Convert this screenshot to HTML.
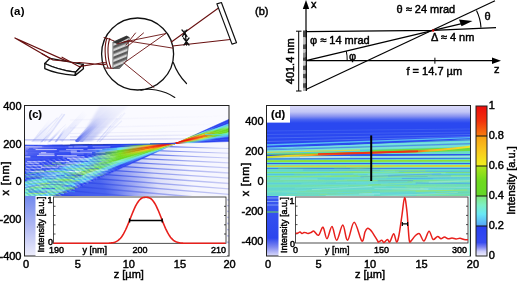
<!DOCTYPE html>
<html><head><meta charset="utf-8"><style>html,body{margin:0;padding:0;background:#fff;overflow:hidden}svg{display:block}</style></head><body>
<svg width="517" height="281" viewBox="0 0 517 281" font-family="'Liberation Sans', Arial, sans-serif">
<style>text{stroke:#000;stroke-width:0.45px}</style>
<rect width="517" height="281" fill="#fff"/>
<g fill="none" stroke-linecap="round" stroke-linejoin="round">
<path d="M15,38 L53,60 M15,38 L79,66.6" stroke="#681010" stroke-width="1.25"/>
<path d="M44.8,63.5 L50,58.3 L83.2,64.3 L75.6,72.2 C66,71 54,68 44.8,63.5 Z" fill="#fff" stroke="#111" stroke-width="1.35"/>
<path d="M44.8,63.5 C54,68 66,71 75.6,72.2 L75.2,75.4 C65,74.5 53,72.5 44.8,68.6 Z" fill="#fff" stroke="#111" stroke-width="1.35"/>
<path d="M75.6,72.2 L83.2,64.3 L83.4,68.8 L75.2,75.4 Z" fill="#fff" stroke="#111" stroke-width="1.35"/>
<path d="M42,53.7 L53,60 L103,64.8 M62,57.2 L79,66.6 L103,62.8" stroke="#681010" stroke-width="1.1"/>
<circle cx="137.6" cy="54" r="36" fill="#fff" stroke="#111" stroke-width="1.3"/>
<path d="M141,90.3 C148,88 163,89.5 174.8,97.4" stroke="#111" stroke-width="1.2"/>
<path d="M173.3,62.5 C176,70 180,77 186.5,83.5" stroke="#111" stroke-width="1.2"/>
<path d="M102,64.6 L106,64.3 M102,62.6 L106,62.8" stroke="#681010" stroke-width="1"/>
<path d="M107,38.3 C104.5,44 104.2,59 108,67.6 M109.8,38.5 C107.2,45 107.2,59 111,68" stroke="#681010" stroke-width="1.1"/>
<path d="M104,37.6 L107,38.3 L114.2,41 M105,68 L113.5,68.3" stroke="#681010" stroke-width="1"/>
<defs><pattern id="blk" patternUnits="userSpaceOnUse" width="5" height="5" patternTransform="rotate(-22)"><rect width="5" height="5" fill="#d4d4d4"/><rect width="5" height="2.6" fill="#5a5a5a"/></pattern></defs>
<path d="M113.3,41.9 L126.6,36 L129.3,37.4 L126.6,60.5 L119.5,68.5 L113.3,68.5 Z" fill="url(#blk)" stroke="#444" stroke-width="0.7"/>
<path d="M113.3,41.9 L126.6,36 L129.3,37.4 L117,44 Z" fill="#333" stroke="none"/>
<path d="M124,42 L165.7,33.6 M124.9,62.3 L165.7,33.6 M126,45 L135.5,33 M128,46 L143.5,33 M128,41 L172.8,48.1 M124,63 L154,87.5 M117,44 L128,41" stroke="#681010" stroke-width="0.9"/>
<path d="M171.4,42 L218.5,8 M172.5,46 L230.3,39.5" stroke="#681010" stroke-width="1.1"/>
<path d="M216.9,3.9 L221.4,2.5 L236.5,42.7 L232,44.1 Z" fill="#fff" stroke="#111" stroke-width="1.2"/>
<path d="M182,30 C184,32 185.5,34 187,36.5 M187,30 C185,32 183.5,34 182.5,36.5 M183.5,38 C185.5,40.5 187,42.5 189,45 M189,38 C187,40.5 185.5,42.5 184,45 M185,31 L186.5,45" stroke="#111" stroke-width="1.3"/>
</g>
<text x="10" y="15.3" font-size="11.5" font-weight="bold" style="stroke-width:0" textLength="14.5" lengthAdjust="spacing">(a)</text>
<g fill="none" stroke="#000">
<path d="M306,91 L306,6" stroke-width="1.2"/>
<path d="M306,0 L302.8,9 L309.2,9 Z" fill="#000" stroke="none"/>
<rect x="303" y="30.5" width="3.5" height="6.9" fill="#4a4a4a" stroke="none"/>
<rect x="303" y="37.4" width="3.5" height="7.0" fill="#c4c4c4" stroke="none"/>
<rect x="303" y="44.4" width="3.5" height="4.7" fill="#505050" stroke="none"/>
<rect x="303" y="49.1" width="3.5" height="3.5" fill="#c8c8c8" stroke="none"/>
<rect x="303" y="52.6" width="3.5" height="4.7" fill="#8a8a8a" stroke="none"/>
<rect x="303" y="57.3" width="3.5" height="3.6" fill="#444" stroke="none"/>
<rect x="303" y="60.9" width="3.5" height="4.7" fill="#d0d0d0" stroke="none"/>
<rect x="303" y="65.6" width="3.5" height="4.7" fill="#505050" stroke="none"/>
<rect x="303" y="70.3" width="3.5" height="3.5" fill="#c8c8c8" stroke="none"/>
<rect x="303" y="73.8" width="3.5" height="4.7" fill="#555" stroke="none"/>
<rect x="303" y="78.5" width="3.5" height="4.7" fill="#c4c4c4" stroke="none"/>
<rect x="303" y="83.2" width="3.5" height="4.7" fill="#505050" stroke="none"/>
<rect x="303" y="87.9" width="3.5" height="3.1" fill="#b0b0b0" stroke="none"/>
<path d="M306.3,30 L306.3,91" stroke-width="1.1"/>
<path d="M298.7,31.2 L298.7,91 M296,31.2 L301.5,31.2 M296,91 L301.5,91" stroke-width="1"/>
<path d="M306,31.6 L433.2,30.4 L496,27.6" stroke-width="1.2"/>
<path d="M306,60.6 L466,22.6" stroke-width="1.2"/>
<path d="M472.5,20.9 L459,19.6 L461.5,26.2 Z" fill="#000" stroke="none"/>
<path d="M306,89.5 L495,0.8" stroke-width="1.2"/>
<path d="M306,60.7 L494,60.7" stroke-width="1.2"/>
<path d="M501,60.7 L492,57.5 L492,63.9 Z" fill="#000" stroke="none"/>
<path d="M434.9,57.7 L434.9,63.7" stroke-width="1"/>
<path d="M346.3,51.2 A40,40 0 0 1 347.2,60.7" stroke-width="1"/>
<path d="M476.5,10.4 A45,45 0 0 1 481,27.6" stroke-width="1.1"/>
</g>
<circle cx="433.2" cy="30.5" r="1.2" fill="#c00"/>
<text x="255" y="15" font-size="11" text-anchor="start" font-weight="normal" fill="#000" >(b)</text>
<text x="311" y="8" font-size="11" text-anchor="start" font-weight="normal" fill="#000" >x</text>
<text x="310" y="43.5" font-size="11" text-anchor="start" font-weight="normal" fill="#000" >φ ≈ 14 mrad</text>
<text x="349" y="59.5" font-size="11" text-anchor="start" font-weight="normal" fill="#000" >φ</text>
<text x="396.5" y="12.8" font-size="11" text-anchor="start" font-weight="normal" fill="#000" >θ ≈ 24 mrad</text>
<text x="484.5" y="20.2" font-size="11" text-anchor="start" font-weight="normal" fill="#000" >θ</text>
<text x="431" y="41.3" font-size="11" text-anchor="start" font-weight="normal" fill="#000" >Δ ≈ 4 nm</text>
<text x="406.5" y="74.5" font-size="11" text-anchor="start" font-weight="normal" fill="#000" >f = 14.7 µm</text>
<text x="494" y="72.8" font-size="11" text-anchor="start" font-weight="normal" fill="#000" >z</text>
<text x="0" y="0" font-size="11" text-anchor="middle" transform="translate(294.3,61.3) rotate(-90)">401.4 nm</text>
<defs>
<clipPath id="clipc"><rect x="25" y="106" width="204" height="150"/></clipPath>
<clipPath id="clipd"><rect x="267" y="106" width="203.5" height="150"/></clipPath>
<filter id="b1" x="-10%" y="-10%" width="120%" height="120%"><feGaussianBlur stdDeviation="0.7"/></filter>
<filter id="b2" x="-10%" y="-10%" width="120%" height="120%"><feGaussianBlur stdDeviation="1.3"/></filter>
<linearGradient id="cbar" x1="0" y1="0" x2="0" y2="1"><stop offset="0.0000" stop-color="#ec0c0c"/><stop offset="0.1000" stop-color="#f2320c"/><stop offset="0.2000" stop-color="#f87d0f"/><stop offset="0.2001" stop-color="#f8a014"/><stop offset="0.3000" stop-color="#f8c81e"/><stop offset="0.4000" stop-color="#f0f01e"/><stop offset="0.4001" stop-color="#afe419"/><stop offset="0.5000" stop-color="#6eda1e"/><stop offset="0.6000" stop-color="#64d728"/><stop offset="0.6001" stop-color="#82e87d"/><stop offset="0.6600" stop-color="#7df0c3"/><stop offset="0.7200" stop-color="#69e8f5"/><stop offset="0.7999" stop-color="#55a5f8"/><stop offset="0.8000" stop-color="#2840f0"/><stop offset="0.9100" stop-color="#374bf0"/><stop offset="0.9400" stop-color="#7d82f2"/><stop offset="0.9700" stop-color="#cdcdfa"/><stop offset="1.0000" stop-color="#f2f2ff"/></linearGradient>
<linearGradient id="dtop" x1="0" y1="0" x2="0" y2="1"><stop offset="0" stop-color="#dadafa"/><stop offset="0.35" stop-color="#c2c6f6"/><stop offset="0.6" stop-color="#8a94f0"/><stop offset="0.8" stop-color="#4a64f0"/><stop offset="1" stop-color="#2a48f0"/></linearGradient>
</defs>
<g clip-path="url(#clipc)">
<rect x="25" y="106" width="204" height="150" fill="#fafaff"/>
<defs><linearGradient id="lavf" gradientUnits="userSpaceOnUse" x1="70" y1="0" x2="229" y2="0"><stop offset="0" stop-color="#b4b6ec" stop-opacity="1"/><stop offset="0.6" stop-color="#b4b6ec" stop-opacity="0.8"/><stop offset="1" stop-color="#b4b6ec" stop-opacity="0.1"/></linearGradient></defs>
<path d="M70,139.6 L229,138.5" stroke="url(#lavf)" stroke-width="1.4" opacity="0.6"/>
<path d="M70,136.8 L229,134.5" stroke="url(#lavf)" stroke-width="1.3" opacity="0.35"/>
<path d="M70,133.5 L229,130.5" stroke="url(#lavf)" stroke-width="1.2" opacity="0.2"/>
<path d="M70,128 L229,124" stroke="url(#lavf)" stroke-width="1.5" opacity="0.1"/>
<path d="M70,120 L229,116" stroke="url(#lavf)" stroke-width="1.5" opacity="0.08"/>
<path d="M25,139.8 L80,139.8" stroke="#8890ea" stroke-width="1.2" opacity="0.6"/>
<defs><linearGradient id="ds0" gradientUnits="userSpaceOnUse" x1="39.5" y1="144" x2="53" y2="130"><stop offset="0" stop-color="#3a52ee" stop-opacity="0.35"/><stop offset="0.5" stop-color="#5a6eee" stop-opacity="0.24"/><stop offset="1" stop-color="#8a96ee" stop-opacity="0"/></linearGradient></defs>
<path d="M39.5,144 L53,130" stroke="url(#ds0)" stroke-width="1.6"/>
<defs><linearGradient id="ds1" gradientUnits="userSpaceOnUse" x1="47" y1="144" x2="62" y2="129"><stop offset="0" stop-color="#3a52ee" stop-opacity="0.4"/><stop offset="0.5" stop-color="#5a6eee" stop-opacity="0.28"/><stop offset="1" stop-color="#8a96ee" stop-opacity="0"/></linearGradient></defs>
<path d="M47,144 L62,129" stroke="url(#ds1)" stroke-width="1.6"/>
<defs><linearGradient id="ds2" gradientUnits="userSpaceOnUse" x1="55" y1="143" x2="67" y2="126"><stop offset="0" stop-color="#3a52ee" stop-opacity="0.4"/><stop offset="0.5" stop-color="#5a6eee" stop-opacity="0.28"/><stop offset="1" stop-color="#8a96ee" stop-opacity="0"/></linearGradient></defs>
<path d="M55,143 L67,126" stroke="url(#ds2)" stroke-width="1.8"/>
<defs><linearGradient id="ds3" gradientUnits="userSpaceOnUse" x1="76" y1="142" x2="97" y2="123.5"><stop offset="0" stop-color="#3a52ee" stop-opacity="0.85"/><stop offset="0.5" stop-color="#5a6eee" stop-opacity="0.59"/><stop offset="1" stop-color="#8a96ee" stop-opacity="0"/></linearGradient></defs>
<path d="M76,142 L97,123.5" stroke="url(#ds3)" stroke-width="3.2"/>
<defs><linearGradient id="ds4" gradientUnits="userSpaceOnUse" x1="79" y1="141" x2="100" y2="118"><stop offset="0" stop-color="#3a52ee" stop-opacity="0.4"/><stop offset="0.5" stop-color="#5a6eee" stop-opacity="0.28"/><stop offset="1" stop-color="#8a96ee" stop-opacity="0"/></linearGradient></defs>
<path d="M79,141 L100,118" stroke="url(#ds4)" stroke-width="6.5"/>
<defs><linearGradient id="ds5" gradientUnits="userSpaceOnUse" x1="80" y1="140" x2="112" y2="110"><stop offset="0" stop-color="#3a52ee" stop-opacity="0.16"/><stop offset="0.5" stop-color="#5a6eee" stop-opacity="0.11"/><stop offset="1" stop-color="#8a96ee" stop-opacity="0"/></linearGradient></defs>
<path d="M80,140 L112,110" stroke="url(#ds5)" stroke-width="7"/>
<defs><linearGradient id="ds6" gradientUnits="userSpaceOnUse" x1="60" y1="140" x2="86" y2="112"><stop offset="0" stop-color="#3a52ee" stop-opacity="0.14"/><stop offset="0.5" stop-color="#5a6eee" stop-opacity="0.10"/><stop offset="1" stop-color="#8a96ee" stop-opacity="0"/></linearGradient></defs>
<path d="M60,140 L86,112" stroke="url(#ds6)" stroke-width="6"/>
<defs><linearGradient id="ds7" gradientUnits="userSpaceOnUse" x1="35" y1="143" x2="52" y2="120"><stop offset="0" stop-color="#3a52ee" stop-opacity="0.12"/><stop offset="0.5" stop-color="#5a6eee" stop-opacity="0.08"/><stop offset="1" stop-color="#8a96ee" stop-opacity="0"/></linearGradient></defs>
<path d="M35,143 L52,120" stroke="url(#ds7)" stroke-width="6"/>
<path d="M41.5,142 L59.8,119.3" stroke="#6878ea" stroke-width="0.8" opacity="0.10"/>
<path d="M99.3,142 L125.0,112.7" stroke="#6878ea" stroke-width="1.6" opacity="0.07"/>
<path d="M46.5,142 L65.8,124.6" stroke="#6878ea" stroke-width="0.8" opacity="0.11"/>
<path d="M40.1,142 L62.4,113.6" stroke="#6878ea" stroke-width="1.2" opacity="0.12"/>
<path d="M99.8,142 L121.5,114.5" stroke="#6878ea" stroke-width="0.8" opacity="0.11"/>
<path d="M97.0,142 L117.4,118.1" stroke="#6878ea" stroke-width="1.2" opacity="0.11"/>
<path d="M31.6,142 L40.9,130.2" stroke="#6878ea" stroke-width="0.8" opacity="0.12"/>
<path d="M61.7,142 L76.1,125.1" stroke="#6878ea" stroke-width="0.8" opacity="0.10"/>
<path d="M76.6,142 L99.8,115.6" stroke="#6878ea" stroke-width="0.8" opacity="0.07"/>
<path d="M44.6,142 L64.7,114.1" stroke="#6878ea" stroke-width="1.6" opacity="0.12"/>
<path d="M99.2,142 L121.9,120.8" stroke="#6878ea" stroke-width="1.2" opacity="0.10"/>
<path d="M44.1,142 L64.5,114.2" stroke="#6878ea" stroke-width="1.2" opacity="0.09"/>
<path d="M96.8,142 L111.0,125.6" stroke="#6878ea" stroke-width="1.2" opacity="0.10"/>
<path d="M31.9,142 L57.6,117.6" stroke="#6878ea" stroke-width="1.2" opacity="0.14"/>
<defs><linearGradient id="fanf" gradientUnits="userSpaceOnUse" x1="85" y1="142" x2="112" y2="106"><stop offset="0" stop-color="#9ca6f0" stop-opacity="0.7"/><stop offset="1" stop-color="#dcdff8" stop-opacity="0.35"/></linearGradient></defs>
<path d="M78,142 L92,141 L128,106 L100,106 Z" fill="url(#fanf)" filter="url(#b2)"/>
<defs><radialGradient id="frb" gradientUnits="userSpaceOnUse" cx="70" cy="205" r="125"><stop offset="0" stop-color="#3a56ee"/><stop offset="0.3" stop-color="#4a64ee"/><stop offset="0.5" stop-color="#94a0f2"/><stop offset="0.72" stop-color="#dcdef8"/><stop offset="1" stop-color="#f6f6fe"/></radialGradient></defs>
<path d="M176.0,143.3 L229,141 L229,200 L25,200 L25,212.0 Z" fill="url(#frb)"/>
<defs><linearGradient id="fg0" gradientUnits="userSpaceOnUse" x1="168.0" y1="0" x2="229" y2="0"><stop offset="0" stop-color="#2a44e8" stop-opacity="0.80"/><stop offset="0.35" stop-color="#4a5ee6" stop-opacity="0.60"/><stop offset="1" stop-color="#6a74e2" stop-opacity="0.24"/></linearGradient></defs>
<path d="M168.0,146.6 L229,148.5" stroke="url(#fg0)" stroke-width="1.10"/>
<defs><linearGradient id="fg1" gradientUnits="userSpaceOnUse" x1="159.2" y1="0" x2="229" y2="0"><stop offset="0" stop-color="#2a44e8" stop-opacity="0.79"/><stop offset="0.35" stop-color="#4a5ee6" stop-opacity="0.60"/><stop offset="1" stop-color="#6a74e2" stop-opacity="0.25"/></linearGradient></defs>
<path d="M159.2,150.7 L229,153.2" stroke="url(#fg1)" stroke-width="1.14"/>
<defs><linearGradient id="fg2" gradientUnits="userSpaceOnUse" x1="150.4" y1="0" x2="229" y2="0"><stop offset="0" stop-color="#2a44e8" stop-opacity="0.79"/><stop offset="0.35" stop-color="#4a5ee6" stop-opacity="0.59"/><stop offset="1" stop-color="#6a74e2" stop-opacity="0.26"/></linearGradient></defs>
<path d="M150.4,154.7 L229,158.0" stroke="url(#fg2)" stroke-width="1.17"/>
<defs><linearGradient id="fg3" gradientUnits="userSpaceOnUse" x1="141.5" y1="0" x2="229" y2="0"><stop offset="0" stop-color="#2a44e8" stop-opacity="0.78"/><stop offset="0.35" stop-color="#4a5ee6" stop-opacity="0.59"/><stop offset="1" stop-color="#6a74e2" stop-opacity="0.28"/></linearGradient></defs>
<path d="M141.5,158.7 L229,162.9" stroke="url(#fg3)" stroke-width="1.21"/>
<defs><linearGradient id="fg4" gradientUnits="userSpaceOnUse" x1="132.7" y1="0" x2="229" y2="0"><stop offset="0" stop-color="#2a44e8" stop-opacity="0.78"/><stop offset="0.35" stop-color="#4a5ee6" stop-opacity="0.58"/><stop offset="1" stop-color="#6a74e2" stop-opacity="0.29"/></linearGradient></defs>
<path d="M132.7,162.7 L229,167.9" stroke="url(#fg4)" stroke-width="1.24"/>
<defs><linearGradient id="fg5" gradientUnits="userSpaceOnUse" x1="123.9" y1="0" x2="229" y2="0"><stop offset="0" stop-color="#2a44e8" stop-opacity="0.77"/><stop offset="0.35" stop-color="#4a5ee6" stop-opacity="0.58"/><stop offset="1" stop-color="#6a74e2" stop-opacity="0.30"/></linearGradient></defs>
<path d="M123.9,166.7 L229,173.0" stroke="url(#fg5)" stroke-width="1.28"/>
<defs><linearGradient id="fg6" gradientUnits="userSpaceOnUse" x1="115.1" y1="0" x2="229" y2="0"><stop offset="0" stop-color="#2a44e8" stop-opacity="0.76"/><stop offset="0.35" stop-color="#4a5ee6" stop-opacity="0.57"/><stop offset="1" stop-color="#6a74e2" stop-opacity="0.31"/></linearGradient></defs>
<path d="M115.1,170.7 L229,178.2" stroke="url(#fg6)" stroke-width="1.31"/>
<defs><linearGradient id="fg7" gradientUnits="userSpaceOnUse" x1="106.2" y1="0" x2="229" y2="0"><stop offset="0" stop-color="#2a44e8" stop-opacity="0.76"/><stop offset="0.35" stop-color="#4a5ee6" stop-opacity="0.57"/><stop offset="1" stop-color="#6a74e2" stop-opacity="0.32"/></linearGradient></defs>
<path d="M106.2,174.7 L229,183.5" stroke="url(#fg7)" stroke-width="1.35"/>
<defs><linearGradient id="fg8" gradientUnits="userSpaceOnUse" x1="97.4" y1="0" x2="229" y2="0"><stop offset="0" stop-color="#2a44e8" stop-opacity="0.75"/><stop offset="0.35" stop-color="#4a5ee6" stop-opacity="0.56"/><stop offset="1" stop-color="#6a74e2" stop-opacity="0.33"/></linearGradient></defs>
<path d="M97.4,178.8 L229,188.9" stroke="url(#fg8)" stroke-width="1.38"/>
<defs><linearGradient id="fg9" gradientUnits="userSpaceOnUse" x1="88.6" y1="0" x2="229" y2="0"><stop offset="0" stop-color="#2a44e8" stop-opacity="0.75"/><stop offset="0.35" stop-color="#4a5ee6" stop-opacity="0.56"/><stop offset="1" stop-color="#6a74e2" stop-opacity="0.34"/></linearGradient></defs>
<path d="M88.6,182.8 L229,194.4" stroke="url(#fg9)" stroke-width="1.42"/>
<defs><linearGradient id="fg10" gradientUnits="userSpaceOnUse" x1="79.8" y1="0" x2="229" y2="0"><stop offset="0" stop-color="#2a44e8" stop-opacity="0.74"/><stop offset="0.35" stop-color="#4a5ee6" stop-opacity="0.56"/><stop offset="1" stop-color="#6a74e2" stop-opacity="0.35"/></linearGradient></defs>
<path d="M79.8,186.8 L229,200.0" stroke="url(#fg10)" stroke-width="1.45"/>
<defs><linearGradient id="fg11" gradientUnits="userSpaceOnUse" x1="70.9" y1="0" x2="229" y2="0"><stop offset="0" stop-color="#2a44e8" stop-opacity="0.74"/><stop offset="0.35" stop-color="#4a5ee6" stop-opacity="0.55"/><stop offset="1" stop-color="#6a74e2" stop-opacity="0.36"/></linearGradient></defs>
<path d="M70.9,190.8 L229,205.8" stroke="url(#fg11)" stroke-width="1.49"/>
<defs><linearGradient id="fg12" gradientUnits="userSpaceOnUse" x1="62.1" y1="0" x2="229" y2="0"><stop offset="0" stop-color="#2a44e8" stop-opacity="0.73"/><stop offset="0.35" stop-color="#4a5ee6" stop-opacity="0.55"/><stop offset="1" stop-color="#6a74e2" stop-opacity="0.37"/></linearGradient></defs>
<path d="M62.1,194.8 L229,211.6" stroke="url(#fg12)" stroke-width="1.52"/>
<defs><linearGradient id="fg13" gradientUnits="userSpaceOnUse" x1="53.3" y1="0" x2="229" y2="0"><stop offset="0" stop-color="#2a44e8" stop-opacity="0.72"/><stop offset="0.35" stop-color="#4a5ee6" stop-opacity="0.54"/><stop offset="1" stop-color="#6a74e2" stop-opacity="0.38"/></linearGradient></defs>
<path d="M53.3,198.8 L229,217.5" stroke="url(#fg13)" stroke-width="1.56"/>
<defs><linearGradient id="fg14" gradientUnits="userSpaceOnUse" x1="44.5" y1="0" x2="229" y2="0"><stop offset="0" stop-color="#2a44e8" stop-opacity="0.72"/><stop offset="0.35" stop-color="#4a5ee6" stop-opacity="0.54"/><stop offset="1" stop-color="#6a74e2" stop-opacity="0.39"/></linearGradient></defs>
<path d="M44.5,202.8 L229,223.6" stroke="url(#fg14)" stroke-width="1.59"/>
<defs><linearGradient id="fg15" gradientUnits="userSpaceOnUse" x1="35.6" y1="0" x2="229" y2="0"><stop offset="0" stop-color="#2a44e8" stop-opacity="0.71"/><stop offset="0.35" stop-color="#4a5ee6" stop-opacity="0.53"/><stop offset="1" stop-color="#6a74e2" stop-opacity="0.40"/></linearGradient></defs>
<path d="M35.6,206.9 L229,229.7" stroke="url(#fg15)" stroke-width="1.63"/>
<defs><linearGradient id="fg16" gradientUnits="userSpaceOnUse" x1="26.8" y1="0" x2="229" y2="0"><stop offset="0" stop-color="#2a44e8" stop-opacity="0.71"/><stop offset="0.35" stop-color="#4a5ee6" stop-opacity="0.53"/><stop offset="1" stop-color="#6a74e2" stop-opacity="0.41"/></linearGradient></defs>
<path d="M26.8,210.9 L229,236.0" stroke="url(#fg16)" stroke-width="1.66"/>
<defs><linearGradient id="fg17" gradientUnits="userSpaceOnUse" x1="18.0" y1="0" x2="229" y2="0"><stop offset="0" stop-color="#2a44e8" stop-opacity="0.70"/><stop offset="0.35" stop-color="#4a5ee6" stop-opacity="0.53"/><stop offset="1" stop-color="#6a74e2" stop-opacity="0.42"/></linearGradient></defs>
<path d="M18.0,214.9 L229,242.3" stroke="url(#fg17)" stroke-width="1.70"/>
</g>
<g clip-path="url(#clipc)">
<defs><linearGradient id="bw0" gradientUnits="userSpaceOnUse" x1="25" y1="0" x2="176.0" y2="0"><stop offset="0.000" stop-color="#8a8ef3"/><stop offset="0.232" stop-color="#5a66f1"/><stop offset="0.430" stop-color="#3248f0"/><stop offset="0.629" stop-color="#2d44f0"/><stop offset="0.815" stop-color="#65dbf6"/><stop offset="0.914" stop-color="#7edd1d"/><stop offset="1.000" stop-color="#f0280c"/></linearGradient></defs>
<path d="M25,145.26 L176.0,143.3 L25,149.27 Z" fill="url(#bw0)" stroke="url(#bw0)" stroke-width="0.6"/>
<defs><linearGradient id="bw1" gradientUnits="userSpaceOnUse" x1="25" y1="0" x2="176.0" y2="0"><stop offset="0.000" stop-color="#7179f2"/><stop offset="0.232" stop-color="#374bf0"/><stop offset="0.430" stop-color="#3046f0"/><stop offset="0.629" stop-color="#2940f0"/><stop offset="0.815" stop-color="#6cda20"/><stop offset="0.914" stop-color="#f7750f"/><stop offset="1.000" stop-color="#ee160c"/></linearGradient></defs>
<path d="M25,149.27 L176.0,143.3 L25,155.27 Z" fill="url(#bw1)" stroke="url(#bw1)" stroke-width="0.6"/>
<defs><linearGradient id="bw2" gradientUnits="userSpaceOnUse" x1="25" y1="0" x2="176.0" y2="0"><stop offset="0.000" stop-color="#4e5df1"/><stop offset="0.232" stop-color="#3448f0"/><stop offset="0.430" stop-color="#2d44f0"/><stop offset="0.629" stop-color="#6be9f1"/><stop offset="0.815" stop-color="#f8ba1a"/><stop offset="0.914" stop-color="#ee1b0c"/><stop offset="1.000" stop-color="#ec0c0c"/></linearGradient></defs>
<path d="M25,155.27 L176.0,143.3 L25,161.95 Z" fill="url(#bw2)" stroke="url(#bw2)" stroke-width="0.6"/>
<defs><linearGradient id="bw3" gradientUnits="userSpaceOnUse" x1="25" y1="0" x2="176.0" y2="0"><stop offset="0.000" stop-color="#354af0"/><stop offset="0.232" stop-color="#3046f0"/><stop offset="0.430" stop-color="#2a42f0"/><stop offset="0.629" stop-color="#66d826"/><stop offset="0.815" stop-color="#f4450d"/><stop offset="0.914" stop-color="#ec0c0c"/><stop offset="1.000" stop-color="#ec0c0c"/></linearGradient></defs>
<path d="M25,161.95 L176.0,143.3 L25,168.62 Z" fill="url(#bw3)" stroke="url(#bw3)" stroke-width="0.6"/>
<defs><linearGradient id="bw4" gradientUnits="userSpaceOnUse" x1="25" y1="0" x2="176.0" y2="0"><stop offset="0.000" stop-color="#3046f0"/><stop offset="0.232" stop-color="#2b42f0"/><stop offset="0.430" stop-color="#5cbef7"/><stop offset="0.629" stop-color="#7edd1d"/><stop offset="0.815" stop-color="#f5570d"/><stop offset="0.914" stop-color="#ee160c"/><stop offset="1.000" stop-color="#ec0c0c"/></linearGradient></defs>
<path d="M25,168.62 L176.0,143.3 L25,175.30 Z" fill="url(#bw4)" stroke="url(#bw4)" stroke-width="0.6"/>
<defs><linearGradient id="bw5" gradientUnits="userSpaceOnUse" x1="25" y1="0" x2="176.0" y2="0"><stop offset="0.000" stop-color="#2941f0"/><stop offset="0.232" stop-color="#5cbef7"/><stop offset="0.430" stop-color="#70ebe4"/><stop offset="0.629" stop-color="#78dc1d"/><stop offset="0.815" stop-color="#f8c41d"/><stop offset="0.914" stop-color="#f2320c"/><stop offset="1.000" stop-color="#ec0c0c"/></linearGradient></defs>
<path d="M25,175.30 L176.0,143.3 L25,181.97 Z" fill="url(#bw5)" stroke="url(#bw5)" stroke-width="0.6"/>
<defs><linearGradient id="bw6" gradientUnits="userSpaceOnUse" x1="25" y1="0" x2="176.0" y2="0"><stop offset="0.000" stop-color="#64d7f6"/><stop offset="0.232" stop-color="#73ecdc"/><stop offset="0.430" stop-color="#80eb94"/><stop offset="0.629" stop-color="#67d825"/><stop offset="0.815" stop-color="#8fdf1b"/><stop offset="0.914" stop-color="#f8aa16"/><stop offset="1.000" stop-color="#ee160c"/></linearGradient></defs>
<path d="M25,181.97 L176.0,143.3 L25,188.65 Z" fill="url(#bw6)" stroke="url(#bw6)" stroke-width="0.6"/>
<defs><linearGradient id="bw7" gradientUnits="userSpaceOnUse" x1="25" y1="0" x2="176.0" y2="0"><stop offset="0.000" stop-color="#7aefcb"/><stop offset="0.232" stop-color="#80eb94"/><stop offset="0.430" stop-color="#64d728"/><stop offset="0.629" stop-color="#7aefcb"/><stop offset="0.815" stop-color="#66d826"/><stop offset="0.914" stop-color="#f0f01e"/><stop offset="1.000" stop-color="#f0280c"/></linearGradient></defs>
<path d="M25,188.65 L176.0,143.3 L25,195.32 Z" fill="url(#bw7)" stroke="url(#bw7)" stroke-width="0.6"/>
<defs><linearGradient id="bw8" gradientUnits="userSpaceOnUse" x1="25" y1="0" x2="176.0" y2="0"><stop offset="0.000" stop-color="#7aefcb"/><stop offset="0.232" stop-color="#7fedac"/><stop offset="0.430" stop-color="#7aefcb"/><stop offset="0.629" stop-color="#5fc6f7"/><stop offset="0.815" stop-color="#73ecdc"/><stop offset="0.914" stop-color="#66d826"/><stop offset="1.000" stop-color="#f5570d"/></linearGradient></defs>
<path d="M25,195.32 L176.0,143.3 L25,201.99 Z" fill="url(#bw8)" stroke="url(#bw8)" stroke-width="0.6"/>
<defs><linearGradient id="bw9" gradientUnits="userSpaceOnUse" x1="25" y1="0" x2="176.0" y2="0"><stop offset="0.000" stop-color="#64d7f6"/><stop offset="0.232" stop-color="#66e0f5"/><stop offset="0.430" stop-color="#5fc6f7"/><stop offset="0.629" stop-color="#2b42f0"/><stop offset="0.815" stop-color="#5cbef7"/><stop offset="0.914" stop-color="#70ebe4"/><stop offset="1.000" stop-color="#f8b419"/></linearGradient></defs>
<path d="M25,201.99 L176.0,143.3 L25,208.00 Z" fill="url(#bw9)" stroke="url(#bw9)" stroke-width="0.6"/>
<defs><linearGradient id="bw10" gradientUnits="userSpaceOnUse" x1="25" y1="0" x2="176.0" y2="0"><stop offset="0.000" stop-color="#2941f0"/><stop offset="0.232" stop-color="#2941f0"/><stop offset="0.430" stop-color="#2b42f0"/><stop offset="0.629" stop-color="#2f45f0"/><stop offset="0.815" stop-color="#2b42f0"/><stop offset="0.914" stop-color="#5bbaf7"/><stop offset="1.000" stop-color="#f4dc1e"/></linearGradient></defs>
<path d="M25,208.00 L176.0,143.3 L25,212.00 Z" fill="url(#bw10)" stroke="url(#bw10)" stroke-width="0.6"/>
<path d="M27.2,144.2 L47.9,144.2" stroke="#ffffff" stroke-width="1" opacity="0.61"/>
<path d="M52.2,144.2 L59.6,144.2" stroke="#9aa8f6" stroke-width="1" opacity="0.62"/>
<path d="M62.6,144.2 L70.0,144.2" stroke="#ffffff" stroke-width="1" opacity="0.56"/>
<path d="M70.4,144.2 L89.0,144.2" stroke="#3c5af0" stroke-width="1" opacity="0.67"/>
<path d="M92.0,144.2 L103.1,144.2" stroke="#ffffff" stroke-width="1" opacity="0.39"/>
<path d="M106.2,144.2 L113.0,144.2" stroke="#2a46ee" stroke-width="1" opacity="0.19"/>
<path d="M113.4,144.2 L114.0,144.2" stroke="#2a46ee" stroke-width="1" opacity="0.07"/>
<path d="M25.8,145.5 L34.0,145.5" stroke="#ffffff" stroke-width="1" opacity="0.62"/>
<path d="M37.3,145.5 L49.5,145.5" stroke="#ffffff" stroke-width="1" opacity="0.59"/>
<path d="M52.3,145.5 L73.1,145.5" stroke="#2a46ee" stroke-width="1" opacity="0.70"/>
<path d="M74.6,145.5 L82.8,145.5" stroke="#ffffff" stroke-width="1" opacity="0.44"/>
<path d="M85.6,145.5 L91.5,145.5" stroke="#2a46ee" stroke-width="1" opacity="0.54"/>
<path d="M93.5,145.5 L114.7,145.5" stroke="#3c5af0" stroke-width="1" opacity="0.25"/>
<path d="M25.8,146.8 L41.9,146.8" stroke="#ffffff" stroke-width="1" opacity="0.48"/>
<path d="M43.6,146.8 L65.0,146.8" stroke="#2a46ee" stroke-width="1" opacity="0.50"/>
<path d="M68.5,146.8 L72.7,146.8" stroke="#ffffff" stroke-width="1" opacity="0.73"/>
<path d="M73.6,146.8 L87.6,146.8" stroke="#ffffff" stroke-width="1" opacity="0.62"/>
<path d="M92.6,146.8 L110.4,146.8" stroke="#ffffff" stroke-width="1" opacity="0.38"/>
<path d="M111.0,146.8 L116.3,146.8" stroke="#2a46ee" stroke-width="1" opacity="0.07"/>
<path d="M29.0,148.4 L33.3,148.4" stroke="#2a46ee" stroke-width="1" opacity="0.59"/>
<path d="M37.6,148.4 L53.2,148.4" stroke="#2a46ee" stroke-width="1" opacity="0.46"/>
<path d="M53.9,148.4 L65.8,148.4" stroke="#2a46ee" stroke-width="1" opacity="0.72"/>
<path d="M67.5,148.4 L76.8,148.4" stroke="#2a46ee" stroke-width="1" opacity="0.48"/>
<path d="M77.9,148.4 L93.3,148.4" stroke="#2a46ee" stroke-width="1" opacity="0.59"/>
<path d="M95.2,148.4 L107.3,148.4" stroke="#9aa8f6" stroke-width="1" opacity="0.31"/>
<path d="M110.2,148.4 L116.9,148.4" stroke="#2a46ee" stroke-width="1" opacity="0.12"/>
<path d="M27.9,149.6 L34.8,149.6" stroke="#3c5af0" stroke-width="1" opacity="0.78"/>
<path d="M35.7,149.6 L56.8,149.6" stroke="#ffffff" stroke-width="1" opacity="0.66"/>
<path d="M58.9,149.6 L64.8,149.6" stroke="#2a46ee" stroke-width="1" opacity="0.63"/>
<path d="M66.1,149.6 L83.4,149.6" stroke="#ffffff" stroke-width="1" opacity="0.54"/>
<path d="M87.5,149.6 L102.3,149.6" stroke="#ffffff" stroke-width="1" opacity="0.43"/>
<path d="M106.9,149.6 L117.2,149.6" stroke="#2a46ee" stroke-width="1" opacity="0.13"/>
<path d="M26.1,151.1 L46.6,151.1" stroke="#2a46ee" stroke-width="1" opacity="0.71"/>
<path d="M47.0,151.1 L58.4,151.1" stroke="#2a46ee" stroke-width="1" opacity="0.47"/>
<path d="M59.3,151.1 L69.9,151.1" stroke="#9aa8f6" stroke-width="1" opacity="0.79"/>
<path d="M70.4,151.1 L76.9,151.1" stroke="#ffffff" stroke-width="1" opacity="0.79"/>
<path d="M80.1,151.1 L96.6,151.1" stroke="#9aa8f6" stroke-width="1" opacity="0.66"/>
<path d="M99.5,151.1 L117.3,151.1" stroke="#ffffff" stroke-width="1" opacity="0.32"/>
<path d="M27.5,152.7 L40.2,152.7" stroke="#3c5af0" stroke-width="1" opacity="0.56"/>
<path d="M40.9,152.7 L46.2,152.7" stroke="#ffffff" stroke-width="1" opacity="0.64"/>
<path d="M49.9,152.7 L70.1,152.7" stroke="#3c5af0" stroke-width="1" opacity="0.71"/>
<path d="M70.7,152.7 L92.1,152.7" stroke="#ffffff" stroke-width="1" opacity="0.57"/>
<path d="M95.5,152.7 L105.4,152.7" stroke="#ffffff" stroke-width="1" opacity="0.39"/>
<path d="M27.6,154.0 L38.5,154.0" stroke="#2a46ee" stroke-width="1" opacity="0.66"/>
<path d="M38.9,154.0 L54.4,154.0" stroke="#ffffff" stroke-width="1" opacity="0.76"/>
<path d="M58.0,154.0 L69.0,154.0" stroke="#3c5af0" stroke-width="1" opacity="0.69"/>
<path d="M71.3,154.0 L83.6,154.0" stroke="#9aa8f6" stroke-width="1" opacity="0.48"/>
<path d="M87.4,154.0 L91.9,154.0" stroke="#9aa8f6" stroke-width="1" opacity="0.33"/>
<path d="M92.0,154.0 L105.3,154.0" stroke="#2a46ee" stroke-width="1" opacity="0.36"/>
<path d="M25.0,155.6 L34.5,155.6" stroke="#3c5af0" stroke-width="1" opacity="0.66"/>
<path d="M37.1,155.6 L54.6,155.6" stroke="#ffffff" stroke-width="1" opacity="0.68"/>
<path d="M56.8,155.6 L76.9,155.6" stroke="#ffffff" stroke-width="1" opacity="0.59"/>
<path d="M78.1,155.6 L93.6,155.6" stroke="#2a46ee" stroke-width="1" opacity="0.67"/>
<path d="M95.5,155.6 L110.0,155.6" stroke="#ffffff" stroke-width="1" opacity="0.26"/>
<path d="M25.2,156.9 L30.3,156.9" stroke="#ffffff" stroke-width="1" opacity="0.74"/>
<path d="M30.9,156.9 L43.4,156.9" stroke="#2a46ee" stroke-width="1" opacity="0.74"/>
<path d="M45.3,156.9 L58.6,156.9" stroke="#3c5af0" stroke-width="1" opacity="0.56"/>
<path d="M62.8,156.9 L84.5,156.9" stroke="#ffffff" stroke-width="1" opacity="0.56"/>
<path d="M88.7,156.9 L97.7,156.9" stroke="#9aa8f6" stroke-width="1" opacity="0.30"/>
<path d="M101.2,156.9 L115.5,156.9" stroke="#ffffff" stroke-width="1" opacity="0.25"/>
<path d="M25.6,158.4 L30.4,158.4" stroke="#3c5af0" stroke-width="1" opacity="0.49"/>
<path d="M31.0,158.4 L44.6,158.4" stroke="#3c5af0" stroke-width="1" opacity="0.73"/>
<path d="M49.4,158.4 L65.7,158.4" stroke="#2a46ee" stroke-width="1" opacity="0.74"/>
<path d="M67.0,158.4 L83.8,158.4" stroke="#ffffff" stroke-width="1" opacity="0.64"/>
<path d="M84.0,158.4 L92.1,158.4" stroke="#ffffff" stroke-width="1" opacity="0.48"/>
<path d="M96.8,158.4 L109.7,158.4" stroke="#2a46ee" stroke-width="1" opacity="0.28"/>
<path d="M28.7,159.9 L45.7,159.9" stroke="#2a46ee" stroke-width="1" opacity="0.61"/>
<path d="M46.7,159.9 L66.7,159.9" stroke="#2a46ee" stroke-width="1" opacity="0.58"/>
<path d="M69.5,159.9 L89.4,159.9" stroke="#ffffff" stroke-width="1" opacity="0.61"/>
<path d="M92.6,159.9 L100.3,159.9" stroke="#3c5af0" stroke-width="1" opacity="0.42"/>
<path d="M104.3,159.9 L106.7,159.9" stroke="#2a46ee" stroke-width="1" opacity="0.16"/>
<path d="M27.1,161.5 L45.4,161.5" stroke="#ffffff" stroke-width="1" opacity="0.54"/>
<path d="M49.0,161.5 L53.3,161.5" stroke="#9aa8f6" stroke-width="1" opacity="0.48"/>
<path d="M55.5,161.5 L69.4,161.5" stroke="#ffffff" stroke-width="1" opacity="0.62"/>
<path d="M69.5,161.5 L88.1,161.5" stroke="#2a46ee" stroke-width="1" opacity="0.60"/>
<path d="M88.2,161.5 L101.8,161.5" stroke="#3c5af0" stroke-width="1" opacity="0.48"/>
<path d="M102.5,161.5 L109.2,161.5" stroke="#9aa8f6" stroke-width="1" opacity="0.26"/>
<path d="M111.8,161.5 L124.5,161.5" stroke="#ffffff" stroke-width="1" opacity="0.11"/>
<path d="M25.9,163.1 L39.4,163.1" stroke="#ffffff" stroke-width="1" opacity="0.74"/>
<path d="M42.2,163.1 L49.1,163.1" stroke="#3c5af0" stroke-width="1" opacity="0.75"/>
<path d="M51.9,163.1 L61.5,163.1" stroke="#88e070" stroke-width="1" opacity="0.78"/>
<path d="M65.9,163.1 L80.9,163.1" stroke="#ffffff" stroke-width="1" opacity="0.75"/>
<path d="M85.7,163.1 L99.1,163.1" stroke="#3c5af0" stroke-width="1" opacity="0.45"/>
<path d="M101.2,163.1 L106.7,163.1" stroke="#2a46ee" stroke-width="1" opacity="0.25"/>
<path d="M26.6,164.7 L45.0,164.7" stroke="#3c5af0" stroke-width="1" opacity="0.49"/>
<path d="M45.5,164.7 L52.5,164.7" stroke="#3c5af0" stroke-width="1" opacity="0.61"/>
<path d="M57.1,164.7 L75.5,164.7" stroke="#88e070" stroke-width="1" opacity="0.54"/>
<path d="M77.9,164.7 L84.2,164.7" stroke="#88e070" stroke-width="1" opacity="0.68"/>
<path d="M88.8,164.7 L109.4,164.7" stroke="#3c5af0" stroke-width="1" opacity="0.36"/>
<path d="M110.3,164.7 L115.3,164.7" stroke="#ffffff" stroke-width="1" opacity="0.08"/>
<path d="M25.9,165.8 L42.3,165.8" stroke="#ffffff" stroke-width="1" opacity="0.70"/>
<path d="M43.5,165.8 L56.5,165.8" stroke="#88e070" stroke-width="1" opacity="0.71"/>
<path d="M57.1,165.8 L70.3,165.8" stroke="#ffffff" stroke-width="1" opacity="0.70"/>
<path d="M73.8,165.8 L93.6,165.8" stroke="#2a46ee" stroke-width="1" opacity="0.57"/>
<path d="M95.7,165.8 L108.9,165.8" stroke="#60d0f0" stroke-width="1" opacity="0.32"/>
<path d="M25.9,167.2 L39.6,167.2" stroke="#3c5af0" stroke-width="1" opacity="0.75"/>
<path d="M40.8,167.2 L58.1,167.2" stroke="#ffffff" stroke-width="1" opacity="0.77"/>
<path d="M59.7,167.2 L69.4,167.2" stroke="#60d0f0" stroke-width="1" opacity="0.53"/>
<path d="M74.4,167.2 L94.4,167.2" stroke="#60d0f0" stroke-width="1" opacity="0.74"/>
<path d="M95.0,167.2 L100.6,167.2" stroke="#88e070" stroke-width="1" opacity="0.25"/>
<path d="M104.8,167.2 L109.4,167.2" stroke="#a8b8f8" stroke-width="1" opacity="0.15"/>
<path d="M25.8,168.6 L42.1,168.6" stroke="#ffffff" stroke-width="1" opacity="0.49"/>
<path d="M44.6,168.6 L62.3,168.6" stroke="#3c5af0" stroke-width="1" opacity="0.80"/>
<path d="M66.4,168.6 L84.9,168.6" stroke="#88e070" stroke-width="1" opacity="0.49"/>
<path d="M85.1,168.6 L99.0,168.6" stroke="#3c5af0" stroke-width="1" opacity="0.56"/>
<path d="M101.4,168.6 L105.4,168.6" stroke="#2a46ee" stroke-width="1" opacity="0.19"/>
<path d="M25.4,170.2 L30.5,170.2" stroke="#a8b8f8" stroke-width="1" opacity="0.61"/>
<path d="M34.3,170.2 L44.2,170.2" stroke="#88e070" stroke-width="1" opacity="0.60"/>
<path d="M46.0,170.2 L53.8,170.2" stroke="#ffffff" stroke-width="1" opacity="0.45"/>
<path d="M57.3,170.2 L76.5,170.2" stroke="#60d0f0" stroke-width="1" opacity="0.59"/>
<path d="M78.3,170.2 L88.9,170.2" stroke="#60d0f0" stroke-width="1" opacity="0.58"/>
<path d="M89.4,170.2 L107.7,170.2" stroke="#ffffff" stroke-width="1" opacity="0.48"/>
<path d="M111.7,170.2 L114.9,170.2" stroke="#a8b8f8" stroke-width="1" opacity="0.11"/>
<path d="M26.4,171.4 L44.1,171.4" stroke="#ffffff" stroke-width="1" opacity="0.77"/>
<path d="M47.8,171.4 L65.8,171.4" stroke="#88e070" stroke-width="1" opacity="0.50"/>
<path d="M67.5,171.4 L81.2,171.4" stroke="#ffffff" stroke-width="1" opacity="0.72"/>
<path d="M85.0,171.4 L96.3,171.4" stroke="#a8b8f8" stroke-width="1" opacity="0.38"/>
<path d="M100.3,171.4 L109.7,171.4" stroke="#2a46ee" stroke-width="1" opacity="0.18"/>
<path d="M111.5,171.4 L112.2,171.4" stroke="#3c5af0" stroke-width="1" opacity="0.07"/>
<path d="M25.9,173.0 L37.2,173.0" stroke="#60d0f0" stroke-width="1" opacity="0.64"/>
<path d="M39.1,173.0 L61.1,173.0" stroke="#a8b8f8" stroke-width="1" opacity="0.52"/>
<path d="M61.7,173.0 L72.8,173.0" stroke="#3c5af0" stroke-width="1" opacity="0.46"/>
<path d="M75.9,173.0 L93.2,173.0" stroke="#ffffff" stroke-width="1" opacity="0.57"/>
<path d="M95.7,173.0 L108.8,173.0" stroke="#a8b8f8" stroke-width="1" opacity="0.29"/>
<path d="M27.2,174.2 L40.3,174.2" stroke="#3c5af0" stroke-width="1" opacity="0.65"/>
<path d="M45.3,174.2 L60.8,174.2" stroke="#a8b8f8" stroke-width="1" opacity="0.48"/>
<path d="M63.8,174.2 L81.5,174.2" stroke="#2a46ee" stroke-width="1" opacity="0.59"/>
<path d="M86.1,174.2 L97.1,174.2" stroke="#60d0f0" stroke-width="1" opacity="0.53"/>
<path d="M99.8,174.2 L106.1,174.2" stroke="#88e070" stroke-width="1" opacity="0.32"/>
<path d="M26.5,175.6 L35.6,175.6" stroke="#a8b8f8" stroke-width="1" opacity="0.54"/>
<path d="M40.3,175.6 L56.2,175.6" stroke="#a8b8f8" stroke-width="1" opacity="0.55"/>
<path d="M56.3,175.6 L64.7,175.6" stroke="#2a46ee" stroke-width="1" opacity="0.67"/>
<path d="M66.7,175.6 L83.0,175.6" stroke="#2a46ee" stroke-width="1" opacity="0.76"/>
<path d="M86.8,175.6 L91.7,175.6" stroke="#a8b8f8" stroke-width="1" opacity="0.54"/>
<path d="M92.1,175.6 L103.1,175.6" stroke="#88e070" stroke-width="1" opacity="0.40"/>
<path d="M25.4,177.0 L44.0,177.0" stroke="#90e840" stroke-width="1" opacity="0.50"/>
<path d="M48.8,177.0 L57.2,177.0" stroke="#c8d0fa" stroke-width="1" opacity="0.49"/>
<path d="M60.3,177.0 L72.5,177.0" stroke="#48c0f0" stroke-width="1" opacity="0.75"/>
<path d="M74.3,177.0 L81.1,177.0" stroke="#2a46ee" stroke-width="1" opacity="0.59"/>
<path d="M84.4,177.0 L96.6,177.0" stroke="#2a46ee" stroke-width="1" opacity="0.50"/>
<path d="M28.3,178.3 L34.7,178.3" stroke="#2a46ee" stroke-width="1" opacity="0.71"/>
<path d="M35.9,178.3 L42.0,178.3" stroke="#2a46ee" stroke-width="1" opacity="0.72"/>
<path d="M45.1,178.3 L55.6,178.3" stroke="#2a46ee" stroke-width="1" opacity="0.66"/>
<path d="M59.2,178.3 L75.8,178.3" stroke="#48c0f0" stroke-width="1" opacity="0.67"/>
<path d="M79.5,178.3 L86.9,178.3" stroke="#48c0f0" stroke-width="1" opacity="0.53"/>
<path d="M90.2,178.3 L97.0,178.3" stroke="#c8d0fa" stroke-width="1" opacity="0.29"/>
<path d="M27.5,179.6 L33.3,179.6" stroke="#58e0d8" stroke-width="1" opacity="0.55"/>
<path d="M37.1,179.6 L57.5,179.6" stroke="#48c0f0" stroke-width="1" opacity="0.64"/>
<path d="M60.7,179.6 L71.4,179.6" stroke="#90e840" stroke-width="1" opacity="0.57"/>
<path d="M73.1,179.6 L86.0,179.6" stroke="#48c0f0" stroke-width="1" opacity="0.74"/>
<path d="M86.4,179.6 L92.5,179.6" stroke="#58e0d8" stroke-width="1" opacity="0.52"/>
<path d="M26.6,180.9 L33.3,180.9" stroke="#48c0f0" stroke-width="1" opacity="0.68"/>
<path d="M38.2,180.9 L48.1,180.9" stroke="#58e0d8" stroke-width="1" opacity="0.72"/>
<path d="M52.2,180.9 L59.5,180.9" stroke="#c8d0fa" stroke-width="1" opacity="0.58"/>
<path d="M60.0,180.9 L79.8,180.9" stroke="#70d850" stroke-width="1" opacity="0.64"/>
<path d="M81.9,180.9 L91.4,180.9" stroke="#c8d0fa" stroke-width="1" opacity="0.49"/>
<path d="M28.6,182.0 L43.5,182.0" stroke="#c8d0fa" stroke-width="1" opacity="0.56"/>
<path d="M47.1,182.0 L63.6,182.0" stroke="#2a46ee" stroke-width="1" opacity="0.76"/>
<path d="M64.7,182.0 L80.6,182.0" stroke="#2a46ee" stroke-width="1" opacity="0.58"/>
<path d="M81.1,182.0 L89.0,182.0" stroke="#58e0d8" stroke-width="1" opacity="0.54"/>
<path d="M27.1,183.4 L49.0,183.4" stroke="#90e840" stroke-width="1" opacity="0.56"/>
<path d="M51.0,183.4 L71.8,183.4" stroke="#58e0d8" stroke-width="1" opacity="0.54"/>
<path d="M73.6,183.4 L84.2,183.4" stroke="#2a46ee" stroke-width="1" opacity="0.68"/>
<path d="M26.5,184.9 L37.5,184.9" stroke="#48c0f0" stroke-width="1" opacity="0.74"/>
<path d="M40.3,184.9 L47.5,184.9" stroke="#90e840" stroke-width="1" opacity="0.76"/>
<path d="M48.9,184.9 L53.3,184.9" stroke="#58e0d8" stroke-width="1" opacity="0.47"/>
<path d="M54.1,184.9 L63.4,184.9" stroke="#70d850" stroke-width="1" opacity="0.68"/>
<path d="M67.4,184.9 L72.6,184.9" stroke="#58e0d8" stroke-width="1" opacity="0.56"/>
<path d="M75.3,184.9 L82.5,184.9" stroke="#2a46ee" stroke-width="1" opacity="0.67"/>
<path d="M25.6,186.1 L43.0,186.1" stroke="#c8d0fa" stroke-width="1" opacity="0.60"/>
<path d="M46.6,186.1 L59.4,186.1" stroke="#58e0d8" stroke-width="1" opacity="0.57"/>
<path d="M61.7,186.1 L72.0,186.1" stroke="#2a46ee" stroke-width="1" opacity="0.69"/>
<path d="M74.4,186.1 L80.0,186.1" stroke="#c8d0fa" stroke-width="1" opacity="0.46"/>
<path d="M28.9,187.2 L39.2,187.2" stroke="#70d850" stroke-width="1" opacity="0.73"/>
<path d="M43.4,187.2 L63.4,187.2" stroke="#58e0d8" stroke-width="1" opacity="0.67"/>
<path d="M66.0,187.2 L77.5,187.2" stroke="#70d850" stroke-width="1" opacity="0.60"/>
<path d="M29.0,188.4 L39.7,188.4" stroke="#48c0f0" stroke-width="1" opacity="0.56"/>
<path d="M41.7,188.4 L55.2,188.4" stroke="#2a46ee" stroke-width="1" opacity="0.79"/>
<path d="M55.5,188.4 L65.0,188.4" stroke="#70d850" stroke-width="1" opacity="0.56"/>
<path d="M65.8,188.4 L74.9,188.4" stroke="#70d850" stroke-width="1" opacity="0.71"/>
<path d="M26.3,189.7 L33.8,189.7" stroke="#2a46ee" stroke-width="1" opacity="0.53"/>
<path d="M35.0,189.7 L51.9,189.7" stroke="#58e0d8" stroke-width="1" opacity="0.63"/>
<path d="M54.1,189.7 L72.0,189.7" stroke="#90e840" stroke-width="1" opacity="0.51"/>
<path d="M28.3,191.0 L40.9,191.0" stroke="#2a46ee" stroke-width="1" opacity="0.62"/>
<path d="M42.9,191.0 L64.1,191.0" stroke="#c8d0fa" stroke-width="1" opacity="0.64"/>
<path d="M68.9,191.0 L69.2,191.0" stroke="#48c0f0" stroke-width="1" opacity="0.59"/>
<path d="M28.9,192.1 L47.2,192.1" stroke="#2a46ee" stroke-width="1" opacity="0.73"/>
<path d="M47.5,192.1 L66.7,192.1" stroke="#70d850" stroke-width="1" opacity="0.76"/>
<path d="M26.7,193.5 L46.4,193.5" stroke="#90e840" stroke-width="1" opacity="0.50"/>
<path d="M48.0,193.5 L56.7,193.5" stroke="#58e0d8" stroke-width="1" opacity="0.50"/>
<path d="M60.4,193.5 L63.8,193.5" stroke="#58e0d8" stroke-width="1" opacity="0.64"/>
<path d="M28.3,194.9 L47.5,194.9" stroke="#48c0f0" stroke-width="1" opacity="0.48"/>
<path d="M48.9,194.9 L60.5,194.9" stroke="#70d850" stroke-width="1" opacity="0.76"/>
<defs><pattern id="hb" patternUnits="userSpaceOnUse" width="3.2" height="3.2" patternTransform="rotate(35)"><rect width="3.2" height="1.2" fill="#ffffff" opacity="0.35"/><rect y="1.6" width="3.2" height="1" fill="#2a44ee" opacity="0.35"/></pattern><clipPath id="wedgeclip"><path d="M25,162 L120,152 L120,168.8 L60,196.1 L25,212.0 Z"/></clipPath><linearGradient id="hbf" x1="25" y1="0" x2="125" y2="0" gradientUnits="userSpaceOnUse"><stop offset="0" stop-color="#fff" stop-opacity="0.7"/><stop offset="0.6" stop-color="#fff" stop-opacity="0.7"/><stop offset="1" stop-color="#fff" stop-opacity="0"/></linearGradient><mask id="hbm"><rect x="25" y="140" width="100" height="60" fill="url(#hbf)"/></mask></defs>
<rect x="25" y="140" width="100" height="60" fill="url(#hb)" clip-path="url(#wedgeclip)" mask="url(#hbm)"/>
<path d="M25,172.0 Q50,166.0 75,171.0" fill="none" stroke="#3050f0" stroke-width="1" opacity="0.45"/>
<path d="M25,174.6 Q50,168.6 75,173.6" fill="none" stroke="#70e070" stroke-width="1" opacity="0.45"/>
<path d="M25,177.2 Q50,171.2 75,176.2" fill="none" stroke="#40c8f0" stroke-width="1" opacity="0.45"/>
<path d="M25,179.8 Q50,173.8 75,178.8" fill="none" stroke="#3050f0" stroke-width="1" opacity="0.45"/>
<path d="M25,182.4 Q50,176.4 75,181.4" fill="none" stroke="#70e070" stroke-width="1" opacity="0.45"/>
<path d="M25,185.0 Q50,179.0 75,184.0" fill="none" stroke="#40c8f0" stroke-width="1" opacity="0.45"/>
<path d="M25,187.6 Q50,181.6 75,186.6" fill="none" stroke="#3050f0" stroke-width="1" opacity="0.45"/>
<path d="M25,190.2 Q50,184.2 75,189.2" fill="none" stroke="#70e070" stroke-width="1" opacity="0.45"/>
<path d="M25,192.8 Q50,186.8 75,191.8" fill="none" stroke="#40c8f0" stroke-width="1" opacity="0.45"/>
<path d="M25,145.4 L70,145.8 L176.0,143.3" stroke="#2440ee" stroke-width="1.3" opacity="0.85"/>
<path d="M25,143.1 L150,142.6" stroke="#ffffff" stroke-width="1.6" opacity="0.95"/>
<defs><linearGradient id="pw0" gradientUnits="userSpaceOnUse" x1="176.0" y1="0" x2="229" y2="0"><stop offset="0.000" stop-color="#ec0c0c"/><stop offset="0.226" stop-color="#64d728"/><stop offset="0.491" stop-color="#2c43f0"/><stop offset="0.755" stop-color="#2e44f0"/><stop offset="1.000" stop-color="#2f45f0"/></linearGradient></defs>
<path d="M176.0,143.3 L229,119.30 L229,121.52 Z" fill="url(#pw0)" stroke="url(#pw0)" stroke-width="0.5"/>
<defs><linearGradient id="pw1" gradientUnits="userSpaceOnUse" x1="176.0" y1="0" x2="229" y2="0"><stop offset="0.000" stop-color="#ec0c0c"/><stop offset="0.226" stop-color="#f4dc1e"/><stop offset="0.491" stop-color="#6ce9ed"/><stop offset="0.755" stop-color="#2b42f0"/><stop offset="1.000" stop-color="#2d44f0"/></linearGradient></defs>
<path d="M176.0,143.3 L229,121.52 L229,123.74 Z" fill="url(#pw1)" stroke="url(#pw1)" stroke-width="0.5"/>
<defs><linearGradient id="pw2" gradientUnits="userSpaceOnUse" x1="176.0" y1="0" x2="229" y2="0"><stop offset="0.000" stop-color="#ec0c0c"/><stop offset="0.226" stop-color="#f4450d"/><stop offset="0.491" stop-color="#75db1d"/><stop offset="0.755" stop-color="#6ce9ed"/><stop offset="1.000" stop-color="#5ec2f7"/></linearGradient></defs>
<path d="M176.0,143.3 L229,123.74 L229,125.96 Z" fill="url(#pw2)" stroke="url(#pw2)" stroke-width="0.5"/>
<defs><linearGradient id="pw3" gradientUnits="userSpaceOnUse" x1="176.0" y1="0" x2="229" y2="0"><stop offset="0.000" stop-color="#ec0c0c"/><stop offset="0.226" stop-color="#ee160c"/><stop offset="0.491" stop-color="#f8c41d"/><stop offset="0.755" stop-color="#68d824"/><stop offset="1.000" stop-color="#7fedac"/></linearGradient></defs>
<path d="M176.0,143.3 L229,125.96 L229,128.18 Z" fill="url(#pw3)" stroke="url(#pw3)" stroke-width="0.5"/>
<defs><linearGradient id="pw4" gradientUnits="userSpaceOnUse" x1="176.0" y1="0" x2="229" y2="0"><stop offset="0.000" stop-color="#ec0c0c"/><stop offset="0.226" stop-color="#ec0c0c"/><stop offset="0.491" stop-color="#f5570d"/><stop offset="0.755" stop-color="#7edd1d"/><stop offset="1.000" stop-color="#68d824"/></linearGradient></defs>
<path d="M176.0,143.3 L229,128.18 L229,130.40 Z" fill="url(#pw4)" stroke="url(#pw4)" stroke-width="0.5"/>
<defs><linearGradient id="pw5" gradientUnits="userSpaceOnUse" x1="176.0" y1="0" x2="229" y2="0"><stop offset="0.000" stop-color="#ec0c0c"/><stop offset="0.226" stop-color="#ee160c"/><stop offset="0.491" stop-color="#f5570d"/><stop offset="0.755" stop-color="#7edd1d"/><stop offset="1.000" stop-color="#66d726"/></linearGradient></defs>
<path d="M176.0,143.3 L229,130.40 L229,132.62 Z" fill="url(#pw5)" stroke="url(#pw5)" stroke-width="0.5"/>
<defs><linearGradient id="pw6" gradientUnits="userSpaceOnUse" x1="176.0" y1="0" x2="229" y2="0"><stop offset="0.000" stop-color="#ec0c0c"/><stop offset="0.226" stop-color="#f2320c"/><stop offset="0.491" stop-color="#f4dc1e"/><stop offset="0.755" stop-color="#64d728"/><stop offset="1.000" stop-color="#75edd8"/></linearGradient></defs>
<path d="M176.0,143.3 L229,132.62 L229,134.84 Z" fill="url(#pw6)" stroke="url(#pw6)" stroke-width="0.5"/>
<defs><linearGradient id="pw7" gradientUnits="userSpaceOnUse" x1="176.0" y1="0" x2="229" y2="0"><stop offset="0.000" stop-color="#ec0c0c"/><stop offset="0.226" stop-color="#f8be1b"/><stop offset="0.491" stop-color="#80eb9a"/><stop offset="0.755" stop-color="#5fc6f7"/><stop offset="1.000" stop-color="#56a9f8"/></linearGradient></defs>
<path d="M176.0,143.3 L229,134.84 L229,137.06 Z" fill="url(#pw7)" stroke="url(#pw7)" stroke-width="0.5"/>
<defs><linearGradient id="pw8" gradientUnits="userSpaceOnUse" x1="176.0" y1="0" x2="229" y2="0"><stop offset="0.000" stop-color="#ec0c0c"/><stop offset="0.226" stop-color="#6cd920"/><stop offset="0.491" stop-color="#57adf8"/><stop offset="0.755" stop-color="#2c43f0"/><stop offset="1.000" stop-color="#2e44f0"/></linearGradient></defs>
<path d="M176.0,143.3 L229,137.06 L229,139.28 Z" fill="url(#pw8)" stroke="url(#pw8)" stroke-width="0.5"/>
<defs><linearGradient id="pw9" gradientUnits="userSpaceOnUse" x1="176.0" y1="0" x2="229" y2="0"><stop offset="0.000" stop-color="#ec0c0c"/><stop offset="0.226" stop-color="#68e4f5"/><stop offset="0.491" stop-color="#2d44f0"/><stop offset="0.755" stop-color="#2e44f0"/><stop offset="1.000" stop-color="#2f45f0"/></linearGradient></defs>
<path d="M176.0,143.3 L229,139.28 L229,141.50 Z" fill="url(#pw9)" stroke="url(#pw9)" stroke-width="0.5"/>
<path d="M205,134.6 L229,134.8" stroke="#50e0f0" stroke-width="1" opacity="0.8"/>
<defs><linearGradient id="lsc" x1="0" y1="0" x2="0" y2="1"><stop offset="0" stop-color="#7088ee"/><stop offset="0.5" stop-color="#b0b8f2"/><stop offset="1" stop-color="#eeeefc"/></linearGradient></defs>
<rect x="25" y="196" width="12" height="60" fill="url(#lsc)"/>
</g>
<rect x="24.5" y="105.5" width="204.5" height="150.5" fill="none" stroke="#222" stroke-width="1"/>
<text x="28.5" y="117.5" font-size="11" text-anchor="start" font-weight="bold" fill="#000" style="stroke-width:0.15px">(c)</text>
<rect x="35.5" y="196" width="191.5" height="60" fill="#fff"/>
<rect x="53.5" y="197" width="172.5" height="46.3" fill="none" stroke="#222" stroke-width="0.8"/>
<path d="M53.5,234.0 h2 M226,234.0 h-2" stroke="#222" stroke-width="0.8"/>
<path d="M53.5,224.8 h2 M226,224.8 h-2" stroke="#222" stroke-width="0.8"/>
<path d="M53.5,215.5 h2 M226,215.5 h-2" stroke="#222" stroke-width="0.8"/>
<path d="M53.5,206.3 h2 M226,206.3 h-2" stroke="#222" stroke-width="0.8"/>
<path d="M53.5,243.3 L54.5,243.3 L55.5,243.3 L56.5,243.3 L57.5,243.3 L58.5,243.3 L59.5,243.3 L60.5,243.3 L61.5,243.3 L62.5,243.3 L63.5,243.3 L64.5,243.3 L65.5,243.3 L66.5,243.3 L67.5,243.3 L68.5,243.3 L69.5,243.3 L70.5,243.3 L71.5,243.3 L72.5,243.3 L73.5,243.3 L74.5,243.3 L75.5,243.3 L76.5,243.3 L77.5,243.3 L78.5,243.3 L79.5,243.3 L80.5,243.3 L81.5,243.3 L82.5,243.3 L83.5,243.3 L84.5,243.3 L85.5,243.3 L86.5,243.3 L87.5,243.3 L88.5,243.3 L89.5,243.3 L90.5,243.3 L91.5,243.3 L92.5,243.3 L93.5,243.3 L94.5,243.3 L95.5,243.3 L96.5,243.3 L97.5,243.3 L98.5,243.3 L99.5,243.3 L100.5,243.3 L101.5,243.3 L102.5,243.3 L103.5,243.3 L104.5,243.3 L105.5,243.3 L106.5,243.3 L107.5,243.2 L108.5,243.2 L109.5,243.1 L110.5,243.0 L111.5,242.9 L112.5,242.8 L113.5,242.6 L114.5,242.3 L115.5,241.9 L116.5,241.4 L117.5,240.9 L118.5,240.1 L119.5,239.2 L120.5,238.2 L121.5,236.9 L122.5,235.5 L123.5,233.9 L124.5,232.0 L125.5,230.0 L126.5,227.8 L127.5,225.5 L128.5,223.1 L129.5,220.6 L130.5,218.0 L131.5,215.5 L132.5,213.0 L133.5,210.6 L134.5,208.3 L135.5,206.2 L136.5,204.3 L137.5,202.7 L138.5,201.2 L139.5,200.0 L140.5,199.1 L141.5,198.3 L142.5,197.8 L143.5,197.5 L144.5,197.4 L145.5,197.3 L146.5,197.3 L147.5,197.4 L148.5,197.6 L149.5,197.9 L150.5,198.5 L151.5,199.2 L152.5,200.2 L153.5,201.5 L154.5,203.0 L155.5,204.7 L156.5,206.6 L157.5,208.8 L158.5,211.0 L159.5,213.5 L160.5,216.0 L161.5,218.5 L162.5,221.1 L163.5,223.6 L164.5,226.0 L165.5,228.3 L166.5,230.4 L167.5,232.4 L168.5,234.2 L169.5,235.8 L170.5,237.2 L171.5,238.4 L172.5,239.4 L173.5,240.3 L174.5,241.0 L175.5,241.6 L176.5,242.0 L177.5,242.3 L178.5,242.6 L179.5,242.8 L180.5,243.0 L181.5,243.1 L182.5,243.1 L183.5,243.2 L184.5,243.2 L185.5,243.3 L186.5,243.3 L187.5,243.3 L188.5,243.3 L189.5,243.3 L190.5,243.3 L191.5,243.3 L192.5,243.3 L193.5,243.3 L194.5,243.3 L195.5,243.3 L196.5,243.3 L197.5,243.3 L198.5,243.3 L199.5,243.3 L200.5,243.3 L201.5,243.3 L202.5,243.3 L203.5,243.3 L204.5,243.3 L205.5,243.3 L206.5,243.3 L207.5,243.3 L208.5,243.3 L209.5,243.3 L210.5,243.3 L211.5,243.3 L212.5,243.3 L213.5,243.3 L214.5,243.3 L215.5,243.3 L216.5,243.3 L217.5,243.3 L218.5,243.3 L219.5,243.3 L220.5,243.3 L221.5,243.3 L222.5,243.3 L223.5,243.3 L224.5,243.3 L225.5,243.3" fill="none" stroke="#e8201c" stroke-width="1.6"/>
<path d="M129.6,220.5 L162.2,220.5 M129.6,218.5 v4 M162.2,218.5 v4" stroke="#000" stroke-width="1.4"/>
<text x="52.5" y="203" font-size="9" text-anchor="end" font-weight="normal" fill="#000" >1</text>
<text x="53" y="245.3" font-size="9" text-anchor="end" font-weight="normal" fill="#000" >0</text>
<text x="56.5" y="253.2" font-size="9" text-anchor="middle" font-weight="normal" fill="#000" >190</text>
<text x="140" y="253.2" font-size="9" text-anchor="middle" font-weight="normal" fill="#000" >200</text>
<text x="218.5" y="253.2" font-size="9" text-anchor="middle" font-weight="normal" fill="#000" >210</text>
<text x="82.5" y="253.2" font-size="9" text-anchor="start" font-weight="normal" fill="#000" >y [nm]</text>
<text font-size="9" text-anchor="middle" transform="translate(43.6,224.6) rotate(-90)">Intensity [a.u.]</text>
<text x="21.5" y="110" font-size="11" text-anchor="end" font-weight="normal" fill="#000" >400</text>
<text x="21.5" y="147.8" font-size="11" text-anchor="end" font-weight="normal" fill="#000" >200</text>
<text x="21.5" y="185.3" font-size="11" text-anchor="end" font-weight="normal" fill="#000" >0</text>
<text x="21.5" y="222.7" font-size="11" text-anchor="end" font-weight="normal" fill="#000" >-200</text>
<text x="21.5" y="260" font-size="11" text-anchor="end" font-weight="normal" fill="#000" >-400</text>
<text x="26" y="268.3" font-size="11" text-anchor="middle" font-weight="normal" fill="#000" >0</text>
<text x="77.7" y="268.3" font-size="11" text-anchor="middle" font-weight="normal" fill="#000" >5</text>
<text x="128.8" y="268.3" font-size="11" text-anchor="middle" font-weight="normal" fill="#000" >10</text>
<text x="179.9" y="268.3" font-size="11" text-anchor="middle" font-weight="normal" fill="#000" >15</text>
<text x="229.6" y="268.3" font-size="11" text-anchor="middle" font-weight="normal" fill="#000" >20</text>
<text x="128.8" y="277.8" font-size="11" text-anchor="middle" font-weight="normal" fill="#000" >z [µm]</text>
<text font-size="11" text-anchor="middle" transform="translate(8.9,178.5) rotate(-90)" textLength="34" lengthAdjust="spacing">x [nm]</text>
<g clip-path="url(#clipd)">
<rect x="267" y="106" width="204" height="150" fill="#68dcc8"/>
<rect x="267" y="106" width="204" height="17" fill="url(#dtop)"/>
<path d="M267,122.9 L471,122.9 L471,139 L267,149 Z" fill="#2a48f0"/>
<path d="M267,131 L471,129" stroke="#8cb0f8" stroke-width="1.2" opacity="0.18" filter="url(#b1)"/>
<path d="M267,134.5 L471,132" stroke="#8cb0f8" stroke-width="1.2" opacity="0.22" filter="url(#b1)"/>
<path d="M267,138 L471,134.5" stroke="#8cb0f8" stroke-width="1.2" opacity="0.3" filter="url(#b1)"/>
<path d="M267,141.5 L471,136.5" stroke="#8cb0f8" stroke-width="1.2" opacity="0.35" filter="url(#b1)"/>
<path d="M267,145.0 L471,137.6" stroke="#5ec8f4" stroke-width="1.3" opacity="0.9" filter="url(#b1)"/>
<path d="M267,146.8 L471,139.8" stroke="#3050f0" stroke-width="1.0" opacity="0.8" filter="url(#b1)"/>
<path d="M267,148.2 L471,141.8" stroke="#78e0ec" stroke-width="1.3" opacity="0.9" filter="url(#b1)"/>
<path d="M267,149.8 L471,143.6" stroke="#4a80f0" stroke-width="1.2" opacity="0.8" filter="url(#b1)"/>
<path d="M267,151.2 L471,145.6" stroke="#80e4d8" stroke-width="1.2" opacity="0.9" filter="url(#b1)"/>
<path d="M267,153.0 L471,148.0" stroke="#48c0f0" stroke-width="1.3" opacity="0.8" filter="url(#b1)"/>
<path d="M267,155.0 L471,150.0" stroke="#70d840" stroke-width="2.2" opacity="0.9" filter="url(#b1)"/>
<path d="M267,155.8 L471,154.2" stroke="#2a48f0" stroke-width="2.2" opacity="0.9" filter="url(#b1)"/>
<path d="M267,157.4 L471,156.4" stroke="#d8dcf8" stroke-width="1.2" opacity="0.6" filter="url(#b1)"/>
<path d="M267,159.0 L471,158.2" stroke="#3050f0" stroke-width="1.2" opacity="0.85" filter="url(#b1)"/>
<path d="M267,161.2 L471,160.6" stroke="#90e030" stroke-width="2.0" opacity="0.95" filter="url(#b1)"/>
<path d="M267,163.6 L471,163.2" stroke="#2a48f0" stroke-width="1.6" opacity="0.85" filter="url(#b1)"/>
<path d="M267,166.4 L471,166.0" stroke="#e0d030" stroke-width="1.8" opacity="0.9" filter="url(#b1)"/>
<path d="M267,168.6 L471,168.2" stroke="#3a68f0" stroke-width="1.4" opacity="0.8" filter="url(#b1)"/>
<path d="M267,170.6 L471,170.3" stroke="#60d8d0" stroke-width="1.4" opacity="0.85" filter="url(#b1)"/>
<path d="M267,172.4 L471,172.2" stroke="#80e070" stroke-width="1.6" opacity="0.85" filter="url(#b1)"/>
<path d="M267,174.4 L471,174.1" stroke="#48b8f0" stroke-width="1.1" opacity="0.7" filter="url(#b1)"/>
<path d="M267,176.6 L471,176.0" stroke="#88e070" stroke-width="1.3" opacity="0.7" filter="url(#b1)"/>
<path d="M267,178.8 L471,178.2" stroke="#58c8ec" stroke-width="1.0" opacity="0.6" filter="url(#b1)"/>
<path d="M267,181.0 L471,180.2" stroke="#90e070" stroke-width="1.2" opacity="0.6" filter="url(#b1)"/>
<path d="M267,183.6 L471,182.6" stroke="#58c0ee" stroke-width="1.0" opacity="0.5" filter="url(#b1)"/>
<path d="M267,186.2 L471,185.0" stroke="#88e080" stroke-width="1.2" opacity="0.5" filter="url(#b1)"/>
<path d="M267,189.0 L471,187.6" stroke="#58b8ee" stroke-width="1.0" opacity="0.4" filter="url(#b1)"/>
<path d="M267,191.6 L471,190.2" stroke="#90e080" stroke-width="1.2" opacity="0.45" filter="url(#b1)"/>
<path d="M267,194.2 L471,193.0" stroke="#58b8ee" stroke-width="1.0" opacity="0.35" filter="url(#b1)"/>
<path d="M370,151.6 C400,150.8 440,149.6 471,148.8" fill="none" stroke="#6cdc40" stroke-width="3" filter="url(#b1)"/>
<defs><linearGradient id="rl" gradientUnits="userSpaceOnUse" x1="267" y1="0" x2="471" y2="0"><stop offset="0" stop-color="#c8e030"/><stop offset="0.15" stop-color="#f0d020"/><stop offset="0.3" stop-color="#f07018"/><stop offset="0.38" stop-color="#f04018"/><stop offset="0.7" stop-color="#ee3a14"/><stop offset="0.8" stop-color="#f8b020"/><stop offset="1" stop-color="#f0e828"/></linearGradient></defs>
<path d="M267,157.2 C310,154.4 360,153 420,151.2 C440,150.2 455,148.4 471,146.6" fill="none" stroke="url(#rl)" stroke-width="2" filter="url(#b1)"/>
<path d="M318,154 C350,153.2 385,152.3 418,151.3" fill="none" stroke="#ee3414" stroke-width="1.6"/>
<path d="M267,152.4 C300,151.5 330,150.8 360,150.2" fill="none" stroke="#e8e030" stroke-width="1.2" opacity="0.8" filter="url(#b1)"/>
<path d="M394.0,186.1 L469.7,187.2" stroke="#90e890" stroke-width="1.0" opacity="0.31"/>
<path d="M306.3,190.5 L330.0,189.4" stroke="#88e060" stroke-width="0.8" opacity="0.44"/>
<path d="M280.2,179.0 L317.6,179.0" stroke="#b0f0e0" stroke-width="1.0" opacity="0.38"/>
<path d="M403.9,172.6 L433.6,172.3" stroke="#a8e850" stroke-width="0.8" opacity="0.34"/>
<path d="M300.4,174.1 L389.1,174.9" stroke="#7ee8c8" stroke-width="0.8" opacity="0.39"/>
<path d="M382.7,183.6 L417.0,184.2" stroke="#58c8f0" stroke-width="1.0" opacity="0.59"/>
<path d="M326.3,176.7 L357.9,175.1" stroke="#88e060" stroke-width="1.2" opacity="0.40"/>
<path d="M368.1,185.0 L437.6,181.2" stroke="#88e060" stroke-width="1.0" opacity="0.55"/>
<path d="M294.9,188.2 L348.0,185.8" stroke="#7ee8c8" stroke-width="0.8" opacity="0.59"/>
<path d="M325.7,195.5 L374.0,194.8" stroke="#b0f0e0" stroke-width="1.2" opacity="0.41"/>
<path d="M342.6,192.4 L412.1,191.7" stroke="#58c8f0" stroke-width="0.8" opacity="0.34"/>
<path d="M429.7,195.0 L473.8,193.6" stroke="#90e890" stroke-width="1.0" opacity="0.38"/>
<path d="M395.2,171.1 L471.0,171.8" stroke="#4a90f0" stroke-width="0.8" opacity="0.43"/>
<path d="M353.3,174.0 L398.7,171.9" stroke="#7ee8c8" stroke-width="1.2" opacity="0.58"/>
<path d="M384.1,170.7 L425.5,170.8" stroke="#a8e850" stroke-width="1.0" opacity="0.52"/>
<path d="M290.8,196.9 L314.2,197.3" stroke="#90e890" stroke-width="0.8" opacity="0.58"/>
<path d="M367.7,174.9 L445.6,173.0" stroke="#b0f0e0" stroke-width="1.2" opacity="0.34"/>
<path d="M349.9,168.9 L428.5,165.0" stroke="#a8e850" stroke-width="1.0" opacity="0.49"/>
<path d="M339.4,171.1 L369.8,171.3" stroke="#7ee8c8" stroke-width="1.2" opacity="0.34"/>
<path d="M435.7,192.7 L487.5,191.6" stroke="#88e060" stroke-width="1.0" opacity="0.44"/>
<path d="M422.5,181.6 L450.4,181.8" stroke="#90e890" stroke-width="1.2" opacity="0.59"/>
<path d="M416.5,195.2 L449.1,194.5" stroke="#90e890" stroke-width="1.2" opacity="0.53"/>
<path d="M401.9,178.5 L476.2,178.1" stroke="#4a90f0" stroke-width="1.0" opacity="0.53"/>
<path d="M381.0,184.2 L459.4,181.2" stroke="#7ee8c8" stroke-width="1.0" opacity="0.59"/>
<path d="M365.4,186.8 L386.2,186.5" stroke="#7ee8c8" stroke-width="1.0" opacity="0.40"/>
<path d="M407.4,181.4 L472.7,181.7" stroke="#88e060" stroke-width="1.0" opacity="0.38"/>
<path d="M409.4,189.4 L453.9,189.7" stroke="#70e0e8" stroke-width="1.0" opacity="0.59"/>
<path d="M356.2,183.0 L387.9,183.2" stroke="#70e0e8" stroke-width="0.8" opacity="0.38"/>
<path d="M392.0,188.9 L424.0,188.9" stroke="#90e890" stroke-width="1.0" opacity="0.50"/>
<path d="M360.5,176.8 L441.2,173.7" stroke="#4a90f0" stroke-width="1.2" opacity="0.36"/>
<path d="M377.7,180.8 L413.1,180.6" stroke="#4a90f0" stroke-width="0.8" opacity="0.60"/>
<path d="M420.7,172.8 L448.5,173.3" stroke="#70e0e8" stroke-width="0.8" opacity="0.36"/>
<path d="M324.5,180.0 L390.9,176.4" stroke="#58c8f0" stroke-width="1.0" opacity="0.37"/>
<path d="M334.2,168.0 L373.7,166.9" stroke="#88e060" stroke-width="1.2" opacity="0.51"/>
<path d="M268.4,178.8 L331.4,175.5" stroke="#90e890" stroke-width="1.2" opacity="0.45"/>
<path d="M324.6,176.5 L353.6,175.7" stroke="#90e890" stroke-width="0.8" opacity="0.41"/>
<path d="M330.1,172.5 L383.5,170.2" stroke="#a8e850" stroke-width="1.0" opacity="0.48"/>
<path d="M379.8,191.8 L426.5,190.2" stroke="#90e890" stroke-width="1.2" opacity="0.34"/>
<path d="M362.4,193.4 L412.5,194.3" stroke="#70e0e8" stroke-width="1.2" opacity="0.39"/>
<path d="M433.1,179.0 L517.0,178.0" stroke="#7ee8c8" stroke-width="1.0" opacity="0.52"/>
<path d="M336.0,182.4 L378.3,183.2" stroke="#70e0e8" stroke-width="0.8" opacity="0.58"/>
<path d="M283.7,181.8 L347.2,180.3" stroke="#7ee8c8" stroke-width="0.8" opacity="0.31"/>
<path d="M264.4,192.0 L321.6,189.8" stroke="#70e0e8" stroke-width="0.8" opacity="0.53"/>
<path d="M412.2,182.2 L482.7,179.6" stroke="#70e0e8" stroke-width="1.0" opacity="0.48"/>
<path d="M415.7,183.0 L497.3,184.0" stroke="#4a90f0" stroke-width="1.0" opacity="0.53"/>
<path d="M388.0,176.2 L451.0,176.1" stroke="#4a90f0" stroke-width="1.0" opacity="0.44"/>
<path d="M406.6,187.8 L435.9,186.0" stroke="#90e890" stroke-width="0.8" opacity="0.44"/>
<path d="M359.1,193.8 L380.1,193.8" stroke="#b0f0e0" stroke-width="1.2" opacity="0.48"/>
<path d="M374.5,188.5 L428.3,189.2" stroke="#b0f0e0" stroke-width="1.2" opacity="0.44"/>
<path d="M297.0,192.7 L337.7,193.0" stroke="#88e060" stroke-width="0.8" opacity="0.39"/>
<path d="M339.0,188.1 L379.1,188.2" stroke="#7ee8c8" stroke-width="1.0" opacity="0.34"/>
<path d="M420.2,188.2 L508.3,186.7" stroke="#b0f0e0" stroke-width="0.8" opacity="0.48"/>
<path d="M302.9,170.0 L380.3,170.2" stroke="#4a90f0" stroke-width="1.0" opacity="0.40"/>
<path d="M439.7,196.4 L508.8,192.5" stroke="#88e060" stroke-width="1.2" opacity="0.37"/>
<path d="M281.8,191.9 L364.4,193.5" stroke="#70e0e8" stroke-width="1.2" opacity="0.34"/>
<path d="M404.8,173.4 L429.5,172.3" stroke="#90e890" stroke-width="1.0" opacity="0.33"/>
<path d="M311.8,189.6 L371.8,186.6" stroke="#b0f0e0" stroke-width="0.8" opacity="0.56"/>
<path d="M278.3,168.3 L346.3,166.9" stroke="#88e060" stroke-width="1.0" opacity="0.58"/>
<path d="M286.6,194.5 L327.2,193.9" stroke="#90e890" stroke-width="1.2" opacity="0.39"/>
<path d="M301.3,183.9 L325.7,182.9" stroke="#7ee8c8" stroke-width="0.8" opacity="0.46"/>
<path d="M415.7,191.4 L467.4,189.9" stroke="#a8e850" stroke-width="1.2" opacity="0.51"/>
<path d="M364.0,177.9 L386.6,178.1" stroke="#90e890" stroke-width="0.8" opacity="0.48"/>
<path d="M344.3,179.3 L431.8,174.8" stroke="#90e890" stroke-width="1.2" opacity="0.31"/>
<path d="M413.0,179.2 L499.1,176.9" stroke="#58c8f0" stroke-width="0.8" opacity="0.52"/>
<path d="M380.4,196.2 L457.8,192.4" stroke="#b0f0e0" stroke-width="0.8" opacity="0.41"/>
<path d="M427.6,176.4 L497.0,176.7" stroke="#b0f0e0" stroke-width="1.0" opacity="0.34"/>
<path d="M405.2,186.8 L455.5,187.2" stroke="#90e890" stroke-width="1.2" opacity="0.31"/>
<path d="M294.1,174.2 L318.6,172.8" stroke="#a8e850" stroke-width="0.8" opacity="0.36"/>
<path d="M428.8,182.2 L495.1,180.1" stroke="#b0f0e0" stroke-width="1.2" opacity="0.44"/>
<path d="M319.5,194.7 L371.9,192.4" stroke="#a8e850" stroke-width="1.0" opacity="0.32"/>
<path d="M300,157.6 L350,156.6" stroke="#e8ecff" stroke-width="1.3" opacity="0.55" filter="url(#b1)"/>
<defs><linearGradient id="lsd" x1="0" y1="0" x2="0" y2="1"><stop offset="0" stop-color="#3a58f0"/><stop offset="0.7" stop-color="#2c46ee"/><stop offset="0.85" stop-color="#8088f0"/><stop offset="1" stop-color="#dcdcfa"/></linearGradient></defs>
<rect x="267" y="196" width="12" height="60" fill="url(#lsd)"/>
<path d="M267,198 h12 M267,201.5 h12 M267,205 h12" stroke="#90b0f8" stroke-width="0.8"/>
<path d="M267,212 h12" stroke="#70e050" stroke-width="1.2"/>
</g>
<rect x="266.5" y="105.5" width="204" height="150.5" fill="none" stroke="#222" stroke-width="1"/>
<rect x="267" y="106" width="23" height="16.6" fill="#fff"/>
<text x="271" y="117.8" font-size="11" text-anchor="start" font-weight="bold" fill="#000" style="stroke-width:0.15px">(d)</text>
<path d="M371.2,135.4 L371.2,181" stroke="#000" stroke-width="2"/>
<rect x="278.5" y="196" width="191" height="60" fill="#fff"/>
<rect x="295.5" y="197" width="172.5" height="46" fill="none" stroke="#222" stroke-width="0.8"/>
<path d="M295.5,233.8 h2 M468,233.8 h-2" stroke="#222" stroke-width="0.8"/>
<path d="M295.5,224.6 h2 M468,224.6 h-2" stroke="#222" stroke-width="0.8"/>
<path d="M295.5,215.4 h2 M468,215.4 h-2" stroke="#222" stroke-width="0.8"/>
<path d="M295.5,206.2 h2 M468,206.2 h-2" stroke="#222" stroke-width="0.8"/>
<path d="M295.7,233.5 C296.1,233.4 297.3,233.2 298.0,233.0 C298.7,232.8 299.3,231.9 300.0,232.0 C300.7,232.1 301.3,233.5 302.0,233.6 C302.7,233.7 303.3,232.5 304.0,232.4 C304.7,232.3 305.3,232.6 306.0,232.8 C306.7,233.0 307.2,233.6 308.0,233.5 C308.8,233.4 310.0,232.9 311.0,232.5 C312.0,232.1 312.8,230.7 314.0,231.2 C315.2,231.7 317.0,236.0 318.5,235.3 C320.0,234.7 321.6,226.7 323.0,227.3 C324.4,227.9 325.5,238.8 327.0,238.7 C328.5,238.6 330.4,226.3 332.0,226.6 C333.6,226.9 334.9,240.6 336.7,240.3 C338.5,240.0 341.0,225.0 342.8,225.0 C344.6,225.0 345.7,240.8 347.6,240.3 C349.5,239.9 351.8,222.2 354.2,222.3 C356.6,222.4 360.0,239.4 361.8,241.0 C363.6,242.6 364.1,234.1 365.0,232.0 C365.9,229.9 366.6,228.8 367.4,228.4 C368.2,228.0 369.2,228.9 370.0,229.5 C370.8,230.1 370.7,230.0 372.0,231.9 C373.3,233.8 376.6,239.3 377.7,241.0 C378.8,242.7 377.7,242.1 378.4,242.0 C379.1,241.9 380.9,240.2 381.8,240.3 C382.7,240.4 383.1,242.8 384.0,242.6 C384.9,242.4 386.5,239.5 387.5,239.4 C388.5,239.3 388.8,242.9 389.8,242.0 C390.8,241.1 392.6,233.7 393.7,233.7 C394.8,233.7 395.7,241.8 396.6,242.0 C397.5,242.2 398.1,239.5 399.0,235.0 C399.9,230.5 401.1,221.2 402.0,215.0 C402.9,208.8 403.8,198.2 404.6,197.7 C405.4,197.2 406.2,205.0 407.0,212.0 C407.8,219.0 408.5,235.1 409.2,239.8 C409.9,244.6 410.4,241.1 411.4,240.5 C412.4,239.9 413.7,237.1 415.0,236.0 C416.3,234.9 417.9,232.9 419.4,233.7 C420.9,234.5 422.4,241.4 424.0,241.0 C425.6,240.6 427.5,231.5 429.0,231.2 C430.5,230.9 431.6,238.5 433.0,239.4 C434.4,240.3 436.3,236.5 437.6,236.4 C438.9,236.3 439.9,238.6 441.0,238.7 C442.1,238.8 443.3,237.1 444.5,237.1 C445.7,237.1 446.8,238.7 448.0,238.8 C449.2,239.0 450.7,238.0 452.0,238.0 C453.3,238.0 454.7,238.9 456.0,239.0 C457.3,239.1 458.7,238.2 460.0,238.3 C461.3,238.4 462.7,239.2 464.0,239.5 C465.3,239.8 467.3,239.8 468.0,239.8" fill="none" stroke="#e8201c" stroke-width="1.5"/>
<path d="M402.3,223.9 L407.6,223.9 M402.3,221.9 v4 M407.6,221.9 v4" stroke="#000" stroke-width="1.2"/>
<text x="294.5" y="203.5" font-size="9" text-anchor="end" font-weight="normal" fill="#000" >1</text>
<text x="295" y="246.5" font-size="9" text-anchor="end" font-weight="normal" fill="#000" >0</text>
<text x="295.5" y="253.3" font-size="9" text-anchor="middle" font-weight="normal" fill="#000" >0</text>
<text x="381.5" y="253.3" font-size="9" text-anchor="middle" font-weight="normal" fill="#000" >150</text>
<text x="459.5" y="253.3" font-size="9" text-anchor="middle" font-weight="normal" fill="#000" >300</text>
<text x="325" y="253.3" font-size="9" text-anchor="start" font-weight="normal" fill="#000" >y [nm]</text>
<text font-size="9" text-anchor="middle" transform="translate(287,224.9) rotate(-90)">Intensity [a.u.]</text>
<text x="263.5" y="124.8" font-size="11" text-anchor="end" font-weight="normal" fill="#000" >400</text>
<text x="263.5" y="154.6" font-size="11" text-anchor="end" font-weight="normal" fill="#000" >200</text>
<text x="263.5" y="184.5" font-size="11" text-anchor="end" font-weight="normal" fill="#000" >0</text>
<text x="263.5" y="215" font-size="11" text-anchor="end" font-weight="normal" fill="#000" >-200</text>
<text x="263.5" y="244.8" font-size="11" text-anchor="end" font-weight="normal" fill="#000" >-400</text>
<text x="268" y="268.3" font-size="11" text-anchor="middle" font-weight="normal" fill="#000" >0</text>
<text x="318.6" y="268.3" font-size="11" text-anchor="middle" font-weight="normal" fill="#000" >5</text>
<text x="370" y="268.3" font-size="11" text-anchor="middle" font-weight="normal" fill="#000" >10</text>
<text x="421.5" y="268.3" font-size="11" text-anchor="middle" font-weight="normal" fill="#000" >15</text>
<text x="472.9" y="268.3" font-size="11" text-anchor="middle" font-weight="normal" fill="#000" >20</text>
<text x="370" y="277.8" font-size="11" text-anchor="middle" font-weight="normal" fill="#000" >z [µm]</text>
<text font-size="11" text-anchor="middle" transform="translate(248.5,179.5) rotate(-90)" textLength="33.7" lengthAdjust="spacing">x [nm]</text>
<rect x="476" y="106" width="11" height="150" fill="url(#cbar)" stroke="#222" stroke-width="1"/>
<path d="M476,226.0 h11" stroke="#111" stroke-width="1"/>
<path d="M476,196.0 h11" stroke="#111" stroke-width="1"/>
<path d="M476,166.0 h11" stroke="#111" stroke-width="1"/>
<path d="M476,136.0 h11" stroke="#111" stroke-width="1"/>
<text x="488.7" y="109.2" font-size="11" text-anchor="start" font-weight="normal" fill="#000" >1</text>
<text x="488.7" y="139.2" font-size="11" text-anchor="start" font-weight="normal" fill="#000" >0.8</text>
<text x="488.7" y="169.2" font-size="11" text-anchor="start" font-weight="normal" fill="#000" >0.6</text>
<text x="488.7" y="199.2" font-size="11" text-anchor="start" font-weight="normal" fill="#000" >0.4</text>
<text x="488.7" y="229.2" font-size="11" text-anchor="start" font-weight="normal" fill="#000" >0.2</text>
<text x="488.7" y="259.2" font-size="11" text-anchor="start" font-weight="normal" fill="#000" >0</text>
<text font-size="11" text-anchor="middle" transform="translate(515,180.5) rotate(-90)">Intensity [a.u.]</text>
</svg>
</body></html>
